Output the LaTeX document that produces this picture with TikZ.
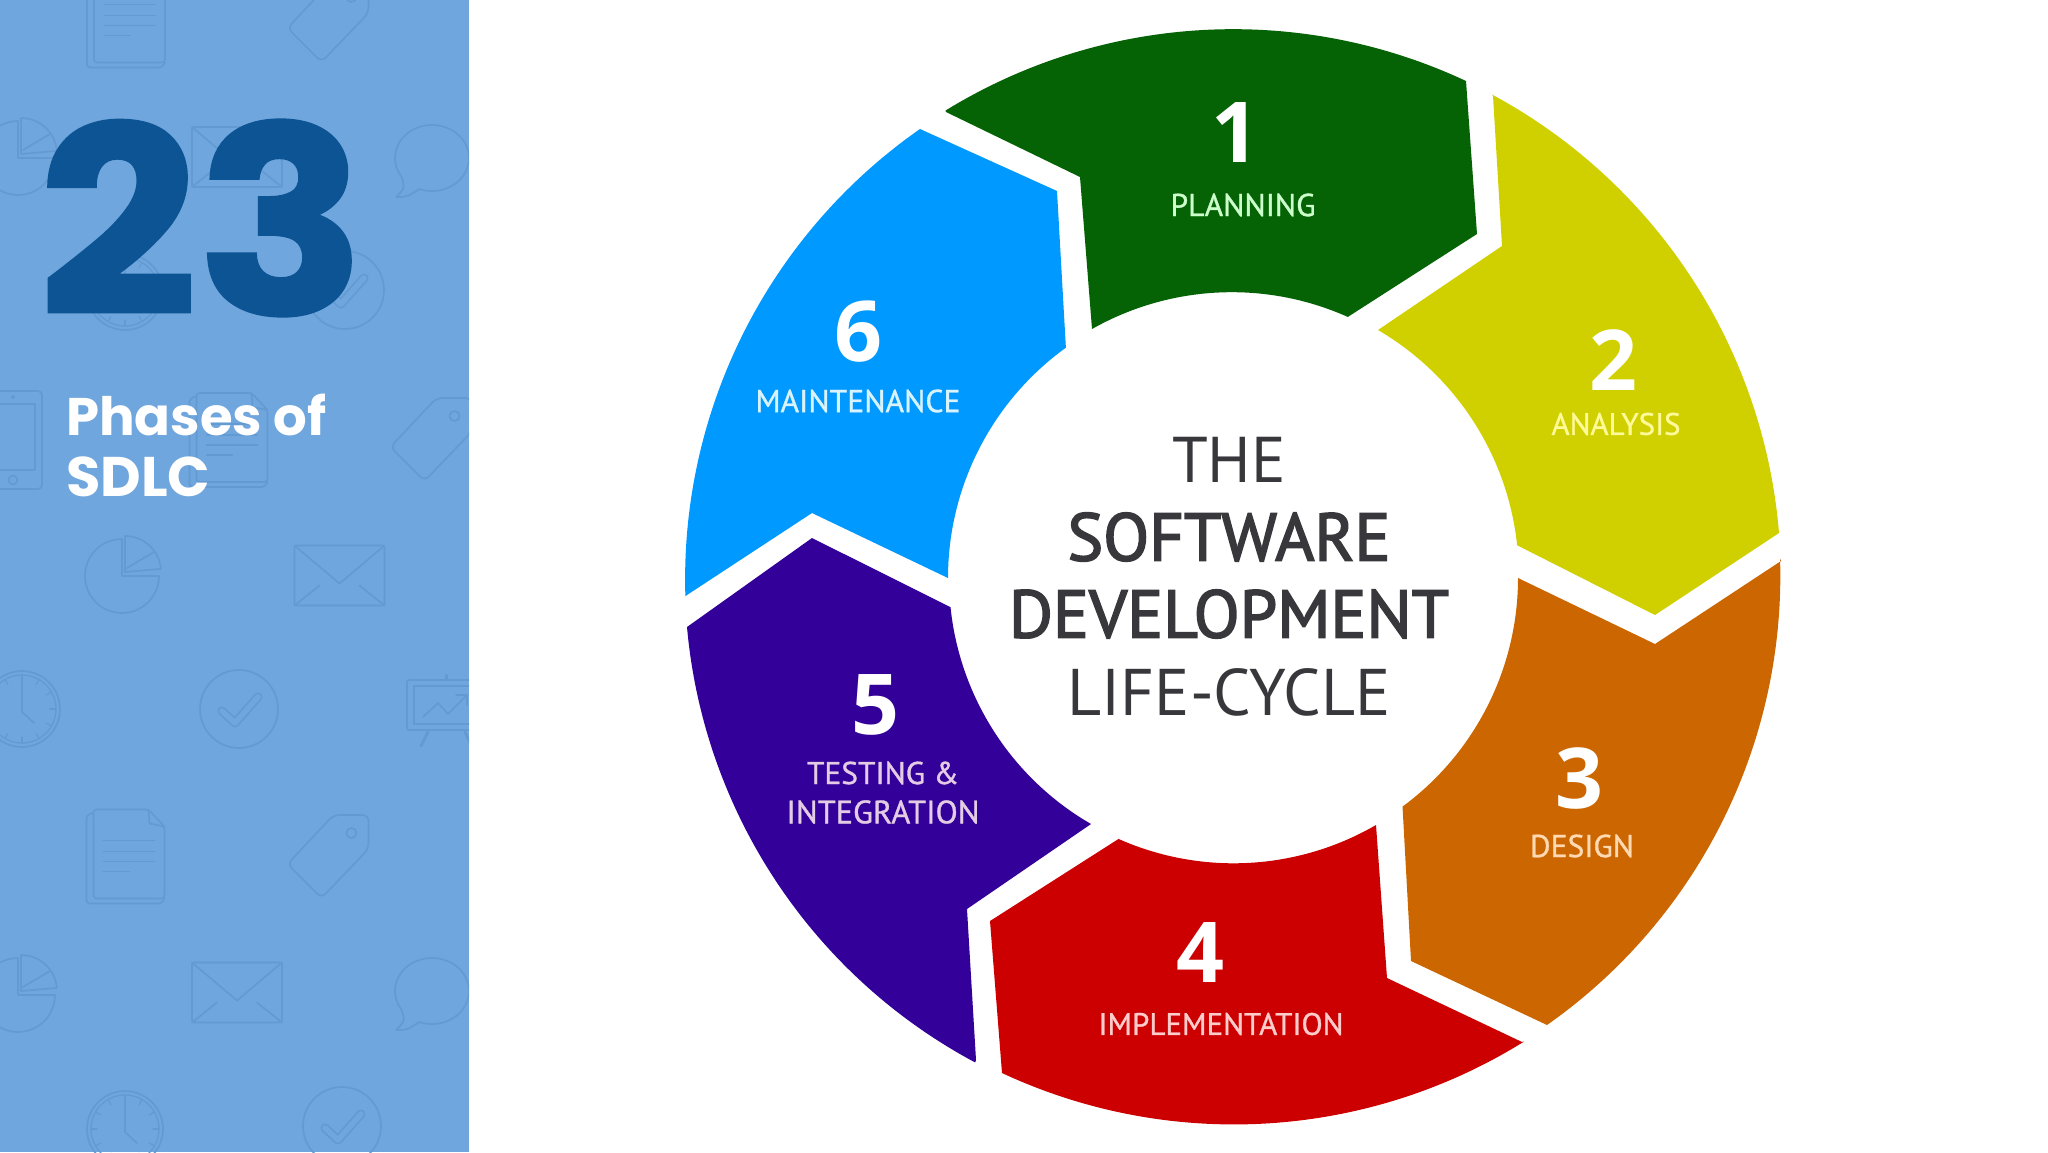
\documentclass[tikz,border=0pt]{standalone}
\usepackage{fontspec}
\setmainfont{PT Sans}
\newfontfamily\popf[BoldFeatures={FakeBold=1.4}]{Poppins}
\newfontfamily\popt{Poppins}
\newfontfamily\midb[FakeBold=2.4]{PT Sans}
\newfontfamily\labf[FakeBold=1.0]{PT Sans}
\newfontfamily\numf{Open Sans}
\definecolor{panel}{HTML}{6FA6DD}
\definecolor{icon}{HTML}{639AD2}
\definecolor{deepblue}{HTML}{0C5494}
\definecolor{cgreen}{HTML}{056305}
\definecolor{cyellow}{HTML}{D0D000}
\definecolor{corange}{HTML}{CC6600}
\definecolor{cred}{HTML}{CC0000}
\definecolor{cpurple}{HTML}{330099}
\definecolor{cblue}{HTML}{0099FF}
\definecolor{ink}{HTML}{38383C}
\newcommand{\fitx}[2]{\resizebox{#1pt}{!}{#2}}
\tikzset{
  ic/.style={draw=icon,line width=1.7pt,line join=round,line cap=round},
  txt/.style={inner sep=0pt,outer sep=0pt,anchor=center},
  num/.style={txt,text=white,font=\numf\bfseries\fontsize{84}{84}\selectfont},
  lab/.style={txt,font=\labf\fontsize{33}{33}\selectfont},
  mid/.style={txt,text=ink,font=\fontsize{64}{64}\selectfont},
  docicon/.pic={
    \draw[ic,rounded corners=3pt] (-32,47)--(23,47)--(39,30)--(39,-42)--(-32,-42)--cycle;
    \draw[ic] (23,47)--(24,33)--(39,30);
    \draw[ic,rounded corners=3pt] (-32,44)--(-39,41)--(-39,-47)--(36,-47)--(39,-42);
    \draw[ic] (-22,16)--(29,16) (-22,5)--(29,5) (-22,-5)--(29,-5) (-22,-15)--(4,-15);
  },
  tagicon/.pic={
    \draw[ic,rounded corners=6pt] (40,41)--(5,41)--(-41,-8)--(-7,-42)--(40,7)--cycle;
    \draw[ic] (23,23) circle (5);
  },
  pieicon/.pic={
    \draw[ic] (0,37) arc[start angle=90,end angle=360,radius=37]--(0,0)--cycle;
    \draw[ic] (3,4)--(3,40) arc[start angle=90,end angle=5,radius=36]--cycle;
    \draw[ic] (5,8)--(32,24);
  },
  envicon/.pic={
    \draw[ic,rounded corners=2pt] (-45,-30) rectangle (45,30);
    \draw[ic] (-45,30)--(0,-8)--(45,30) (-45,-30)--(-20,-10) (45,-30)--(20,-10);
  },
  bubicon/.pic={
    \draw[ic] (250:37 and 33) arc[start angle=250,end angle=575,x radius=37,y radius=33]
      .. controls (-27,-30) .. (-36,-39) .. controls (-25,-39) .. (250:37 and 33);
  },
  clockicon/.pic={
    \draw[ic] (0,0) circle (38);
    \draw[ic,line width=1.3pt] (0,0) circle (34);
    \foreach \a in {0,30,...,330}{\draw[ic,line width=1.2pt] (\a:34)--(\a:28);}
    \draw[ic] (0,30)--(0,-3)--(12,-14);
  },
  checkicon/.pic={
    \draw[ic] (0,0) circle (39);
    \draw[icon,line width=9pt,line cap=round,line join=round] (-17,-2)--(-4,-14)--(19,12);
    \draw[panel,line width=5.6pt,line cap=round,line join=round] (-17,-2)--(-4,-14)--(19,12);
  },
}
\begin{document}
\begin{tikzpicture}[x=1pt,y=1pt]
\useasboundingbox (0,-1152) rectangle (2048,0);
\fill[white] (0,-1152) rectangle (2048,0);
\fill[panel] (0,-1152) rectangle (469,0);
\begin{scope}
\clip (0,-1152) rectangle (469,0);
\path pic at (126,-20.5) {docicon} pic at (228.5,-440) {docicon} pic at (125.5,-856.5) {docicon};
\path pic at (328.5,-20) {tagicon} pic at (431.5,-439) {tagicon} pic at (328.5,-856) {tagicon};
\path pic at (18,-158) {pieicon} pic at (122,-576) {pieicon} pic at (18,-995) {pieicon};
\path pic at (237,-157) {envicon} pic at (339.5,-575.5) {envicon} pic at (237,-992.5) {envicon};
\path pic at (432,-158) {bubicon} pic at (432,-991) {bubicon};
\path pic at (125,-292) {clockicon} pic at (22,-709) {clockicon} pic at (125,-1129) {clockicon};
\path pic at (345,-290) {checkicon} pic at (239,-709) {checkicon} pic at (342,-1126) {checkicon};
% tablet
\draw[ic,rounded corners=4pt] (-12,-391) rectangle (42,-489);
\draw[ic] (-12,-404) rectangle (35,-470);
\draw[ic] (13,-480) circle (4.5);
\draw[ic,line width=1.2pt] (13,-397) circle (1.5);
% chart
\draw[ic,rounded corners=2pt] (407,-680) rectangle (490,-730);
\draw[ic] (414,-686) rectangle (490,-724);
\draw[ic] (423,-717)--(438,-703)--(448,-714)--(467,-695);
\draw[ic] (456,-695)--(467,-695)--(467,-705);
\draw[ic,line width=3pt] (428,-732)--(421,-746) (465,-732)--(472,-746);
\draw[ic,line width=3pt] (446,-675)--(446,-679);
\end{scope}
\node[txt,text=deepblue] (bignum) at (202,-218) {\resizebox{326pt}{194pt}{\popf\bfseries 23}};
\node[anchor=base west,inner sep=0pt,text=white] (phase) at (66,-435) {\resizebox{260pt}{!}{\popt\bfseries Phases of}};
\node[anchor=base west,inner sep=0pt,text=white] (sdlc) at (66,-496) {\resizebox{144pt}{!}{\popt\bfseries SDLC}};

% segments
\fill[cgreen] (946,-112)--(1080,-177)--(1092,-329)
  arc[start angle=119.5,end angle=65.9,radius=284]--(1477,-234)--(1466,-81)
  arc[start angle=64.9,end angle=121.6,radius=549]--cycle;
\fill[cyellow] (1493,-96)--(1502,-246)--(1378,-330)
  arc[start angle=59.7,end angle=6.05,radius=284]--(1655,-615)--(1779,-533)
  arc[start angle=4.7,end angle=61.7,radius=549]--cycle;
\fill[corange] (1781,-561)--(1655,-644)--(1518,-578)
  arc[start angle=0,end angle=-53.6,radius=284]--(1411,-961)--(1547,-1025)
  arc[start angle=-54.9,end angle=1.8,radius=549]--cycle;
\fill[cred] (1522,-1042)--(1387,-978)--(1376,-825)
  arc[start angle=-59.9,end angle=-113.9,radius=284]--(990,-921)--(1002,-1073)
  arc[start angle=-115,end angle=-58.1,radius=549]--cycle;
\fill[cpurple] (976,-1060)--(967,-909)--(1091,-824)
  arc[start angle=-120,end angle=-174.1,radius=284]--(812,-538)--(687,-627)
  arc[start angle=-174.9,end angle=-118.1,radius=549]--cycle;
\fill[cblue] (687,-595)--(812,-513)--(948,-578)
  arc[start angle=180,end angle=125.8,radius=284]--(1057,-191)--(920,-129)
  arc[start angle=124.9,end angle=181.8,radius=549]--cycle;

% labels
\node[num] (n1) at (1235,-133) {1};
\node[lab,text=green!20!white] (l1) at (1243,-205) {\fitx{145}{PLANNING}};
\node[num] (n2) at (1613,-360) {2};
\node[lab,text=yellow!40!white] (l2) at (1616,-424) {\fitx{129}{ANALYSIS}};
\node[num] (n3) at (1579,-778) {3};
\node[lab,text=orange!30!white] (l3) at (1582,-846) {\fitx{104}{DESIGN}};
\node[num] (n4) at (1200,-953) {4};
\node[lab,text=red!20!white] (l4) at (1221,-1024) {\fitx{245}{IMPLEMENTATION}};
\node[num] (n5) at (875,-705) {5};
\node[lab,text=violet!20!white] (l5a) at (883,-773) {\fitx{152}{TESTING \&}};
\node[lab,text=violet!20!white] (l5b) at (883,-812) {\fitx{193}{INTEGRATION}};
\node[num] (n6) at (858,-332) {6};
\node[lab,text=cyan!15!white] (l6) at (858,-401) {\fitx{205}{MAINTENANCE}};

\node[mid] (c1) at (1229,-460) {\fitx{114}{THE}};
\node[mid] (c2) at (1229,-537) {\fitx{323}{\midb SOFTWARE}};
\node[mid] (c3) at (1229,-614) {\fitx{440}{\midb DEVELOPMENT}};
\node[mid] (c4) at (1229,-692) {\fitx{323}{LIFE-CYCLE}};
\end{tikzpicture}
\end{document}
